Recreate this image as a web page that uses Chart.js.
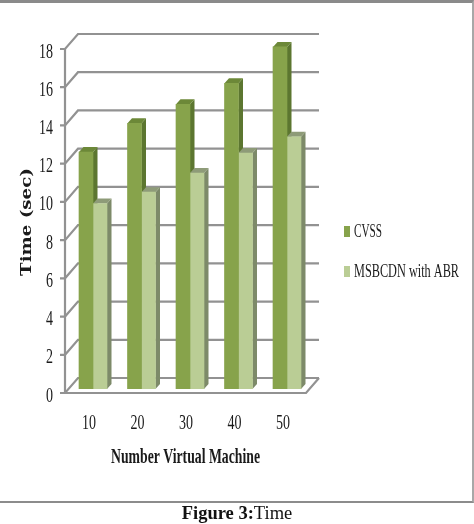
<!DOCTYPE html>
<html>
<head>
<meta charset="utf-8">
<script src="https://cdn.jsdelivr.net/npm/chart.js"></script>
<style>
  html, body { margin: 0; padding: 0; background: #fff; }
  #wrap { position: relative; width: 474px; height: 524px; overflow: hidden; }
  #frame { position: absolute; left: 0; top: 0; width: 472px; height: 498px; border-top: 3px solid #8a8a8a; border-right: 2px solid #a8a8a8; border-bottom: 2px solid #8c8c8c; }
  #caption { position: absolute; left: 0; width: 474px; top: 503px; text-align: center; font: 18.5px "Liberation Serif", serif; color: #111; }
</style>
</head>
<body>
<div id="wrap">
  <div id="frame"></div>
  <canvas id="chart" width="474" height="524" style="position:absolute;left:0;top:0"></canvas>
  <div id="caption"><b>Figure 3:</b>Time</div>
</div>
<script>
const categories = ['10', '20', '30', '40', '50'];
const cvss = [12.4, 13.9, 14.9, 16, 17.9];
const msbcdn = [9.7, 10.3, 11.3, 12.35, 13.2];
const yTicks = [0, 2, 4, 6, 8, 10, 12, 14, 16, 18];
const xTitle = 'Number Virtual Machine';
const yTitle = 'Time (sec)';

// depth of the fake 3D box
const wall = { front: 65, back: 78, right: 319, frontRight: 306, up: 11, down: 4 };
const depth = { x: 4.5, y: 5 };
const gridColor = '#929292';
const faces = [
    { side: '#5c7630', cap: '#6c8838' },
    { side: '#7d8a69', cap: '#8e9b78' }
];

function line(ctx, pts, color, width) {
    ctx.beginPath();
    pts.forEach((p, i) => i ? ctx.lineTo(p[0], p[1]) : ctx.moveTo(p[0], p[1]));
    ctx.strokeStyle = color;
    ctx.lineWidth = width;
    ctx.stroke();
}

function poly(ctx, pts, color) {
    ctx.beginPath();
    pts.forEach((p, i) => i ? ctx.lineTo(p[0], p[1]) : ctx.moveTo(p[0], p[1]));
    ctx.closePath();
    ctx.fillStyle = color;
    ctx.fill();
}

const box3d = {
    id: 'box3d',
    beforeDatasetsDraw(chart) {
        const ctx = chart.ctx;
        const y = chart.scales.y;
        ctx.save();
        // back wall and floor
        yTicks.forEach(v => {
            const py = y.getPixelForValue(v);
            line(ctx, [[wall.front - 5, py + wall.down], [wall.front, py + wall.down],
                [wall.back, py - wall.up], [wall.right, py - wall.up]], gridColor, 2.2);
        });
        const y0 = y.getPixelForValue(0);
        const y18 = y.getPixelForValue(18);
        line(ctx, [[wall.front, y18 + wall.down], [wall.front, y0 + wall.down], [wall.frontRight, y0 + wall.down],
            [wall.right, y0 - wall.up]], gridColor, 2.2);
        // side and top faces, left series first so the right one overlaps it
        chart.data.datasets.forEach((ds, i) => {
            chart.getDatasetMeta(i).data.forEach(bar => {
                const l = bar.x - bar.width / 2, r = bar.x + bar.width / 2;
                poly(ctx, [[r, bar.y], [r + depth.x, bar.y - depth.y], [r + depth.x, bar.base - depth.y], [r, bar.base]], faces[i].side);
                poly(ctx, [[l, bar.y], [r, bar.y], [r + depth.x, bar.y - depth.y], [l + depth.x, bar.y - depth.y]], faces[i].cap);
            });
        });
        ctx.restore();
    },
    afterDraw(chart) {
        const ctx = chart.ctx;
        const x = chart.scales.x, y = chart.scales.y;
        ctx.save();
        ctx.fillStyle = '#1a1a1a';
        ctx.textBaseline = 'middle';
        // tick labels, squeezed like the source image with the maxWidth argument
        ctx.textAlign = 'right';
        ctx.font = '21px "Liberation Serif", serif';
        yTicks.forEach(v => {
            const s = String(v);
            ctx.fillText(s, 53, y.getPixelForValue(v) + 7, s.length > 1 ? 14 : 7);
        });
        ctx.textAlign = 'center';
        ctx.font = '22px "Liberation Serif", serif';
        categories.forEach((c, i) => ctx.fillText(c, x.getPixelForTick(i) - 4, 423, 14));
        ctx.font = 'bold 21px "Liberation Serif", serif';
        ctx.fillText(xTitle, 185.5, 458, 149);
        // y title, stretched along its length
        ctx.save();
        ctx.translate(27, 222);
        ctx.rotate(-Math.PI / 2);
        ctx.scale(1.3, 1);
        ctx.font = 'bold 14px "DejaVu Serif", serif';
        ctx.fillText(yTitle, 0, 0);
        ctx.restore();
        // legend
        ctx.textAlign = 'left';
        ctx.font = '19px "Liberation Serif", serif';
        const legendY = [232, 272];
        const legendW = [28, 105];
        chart.data.datasets.forEach((ds, i) => {
            ctx.fillStyle = ds.backgroundColor;
            ctx.fillRect(344, legendY[i] - 6, 6, 11);
            ctx.fillStyle = '#1a1a1a';
            ctx.fillText(ds.label, 354, legendY[i], legendW[i]);
        });
        ctx.restore();
    }
};

new Chart(document.getElementById('chart'), {
    type: 'bar',
    data: {
        labels: categories,
        datasets: [
            { label: 'CVSS', data: cvss, backgroundColor: '#87a34b', barThickness: 14 },
            { label: 'MSBCDN with ABR', data: msbcdn, backgroundColor: '#bacd95', barThickness: 14 }
        ]
    },
    options: {
        responsive: false,
        animation: false,
        layout: { padding: { left: 68.75, right: 162.75, top: 45, bottom: 135 } },
        plugins: { legend: { display: false }, tooltip: { enabled: false } },
        scales: {
            x: {
                grid: { display: false }, border: { display: false }, ticks: { display: false },
                afterFit(scale) { scale.height = 0; }
            },
            y: {
                min: 0, max: 18,
                grid: { display: false }, border: { display: false },
                ticks: { display: false, stepSize: 2 },
                afterFit(scale) { scale.width = 0; }
            }
        }
    },
    plugins: [box3d]
});
</script>
</body>
</html>
